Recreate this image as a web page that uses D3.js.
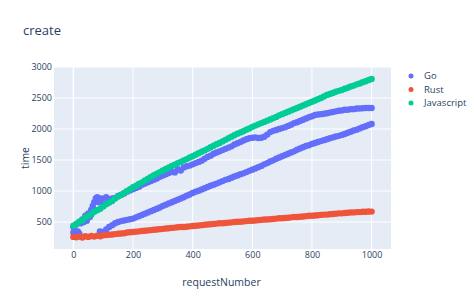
<!DOCTYPE html>
<html>
<head>
<meta charset="utf-8">
<script src="https://cdn.jsdelivr.net/npm/d3@7"></script>
<style>
  body { margin: 0; background: #fff; }
  text { font-family: "Open Sans", verdana, arial, sans-serif; fill: #2a3f5f; }
</style>
</head>
<body>
<div id="chart"></div>
<script>
// request numbers sampled every 10 requests
const requests = d3.range(0, 1001, 10);

// Javascript
const jsTimes = [440, 470, 505, 525, 575, 600, 625, 665, 690, 715, 750, 785, 815, 840, 880, 910, 935, 970, 1000, 1030,
  1060, 1085, 1115, 1140, 1170, 1200, 1225, 1255, 1280, 1305, 1330, 1355, 1380, 1405, 1425, 1450, 1470, 1495, 1515, 1540,
  1560, 1585, 1610, 1635, 1655, 1680, 1705, 1730, 1755, 1775, 1800, 1825, 1850, 1875, 1900, 1925, 1945, 1965, 1990, 2010,
  2035, 2055, 2075, 2095, 2115, 2135, 2155, 2175, 2195, 2220, 2240, 2260, 2280, 2300, 2320, 2340, 2360, 2380, 2400, 2420,
  2440, 2460, 2480, 2500, 2525, 2550, 2565, 2580, 2600, 2615, 2630, 2650, 2665, 2685, 2700, 2720, 2735, 2755, 2770, 2790, 2806];

// Go, upper run
const goUpperTimes = [420, 460, 500, 520, 560, 640, 700, 820, 880, 860, 780, 800, 850, 880, 890, 920, 940, 960, 990, 1010,
  1030, 1050, 1070, 1100, 1120, 1140, 1160, 1180, 1200, 1230, 1250, 1270, 1290, 1310, 1300, 1350, 1330, 1380, 1400, 1410,
  1430, 1450, 1470, 1490, 1520, 1550, 1570, 1600, 1620, 1640, 1660, 1680, 1700, 1720, 1750, 1770, 1790, 1815, 1835, 1850,
  1860, 1865, 1855, 1860, 1875, 1910, 1950, 1970, 1985, 2000, 2015, 2030, 2050, 2070, 2095, 2110, 2130, 2150, 2170, 2190,
  2205, 2225, 2235, 2240, 2245, 2255, 2265, 2275, 2285, 2295, 2300, 2310, 2310, 2320, 2320, 2330, 2330, 2335, 2340, 2340, 2340];

// Go, lower run (starts around request 100)
const goLowerRequests = d3.range(100, 1001, 10);
const goLowerTimes = [330, 380, 420, 450, 480, 500, 515, 525, 535, 545,
  555, 575, 595, 615, 635, 655, 675, 695, 715, 735, 760, 780, 800, 820, 840, 860, 880, 900, 925, 945,
  970, 990, 1005, 1025, 1045, 1065, 1085, 1100, 1120, 1140, 1160, 1180, 1195, 1215, 1235, 1250, 1270, 1285, 1305, 1325,
  1345, 1365, 1385, 1405, 1430, 1450, 1475, 1495, 1520, 1540, 1560, 1580, 1600, 1620, 1640, 1665, 1685, 1705, 1725, 1740,
  1760, 1775, 1790, 1805, 1820, 1835, 1850, 1865, 1880, 1890, 1905, 1920, 1940, 1955, 1975, 1990, 2010, 2030, 2045, 2065, 2080];

// Go, scattered early points
const goEarlyRequests = [0, 5, 10, 15, 20, 25, 30, 35, 40, 45, 55, 60, 65, 70, 75, 80, 85, 89, 95, 96, 105, 110, 115, 120, 125];
const goEarlyTimes = [330, 360, 300, 350, 310, 480, 540, 500, 600, 520, 580, 620, 760, 700, 880, 900, 820, 348, 880, 340, 310, 900, 850, 820, 870];

// Rust
const rustTimes = [260, 255, 265, 250, 270, 260, 275, 265, 280, 270, 285, 290, 295, 300, 305, 310, 315, 320, 330, 335,
  340, 345, 350, 355, 360, 365, 370, 375, 380, 385, 390, 395, 400, 405, 410, 415, 420, 420, 425, 430,
  435, 440, 445, 450, 455, 460, 465, 470, 475, 480, 480, 485, 490, 495, 500, 505, 505, 510, 515, 520,
  520, 525, 530, 535, 540, 540, 545, 550, 555, 560, 560, 565, 570, 575, 580, 580, 585, 590, 595, 600,
  600, 605, 610, 615, 620, 620, 625, 630, 635, 640, 640, 645, 650, 655, 655, 660, 660, 665, 665, 670, 668];

const seriesNames = ['Go', 'Rust', 'Javascript'];
const seriesColors = ['#636efa', '#EF553B', '#00cc96'];
const xTicks = [0, 200, 400, 600, 800, 1000];
const yTicks = [500, 1000, 1500, 2000, 2500, 3000];

const W = 474, H = 304;
const margin = { top: 67, left: 54, right: 83, bottom: 55 };
const width = W - margin.left - margin.right,
  height = H - margin.top - margin.bottom;

const svg = d3.select('#chart').append('svg')
  .attr('width', W)
  .attr('height', H);

const xScale = d3.scaleLinear().domain([-65, 1065]).range([0, width]);
const yScale = d3.scaleLinear().domain([65, 3000]).range([height, 0]);

svg.append('text')
  .attr('x', 23).attr('y', 35)
  .attr('font-size', 13)
  .text('create');

const g = svg.append('g')
  .attr('transform', 'translate(' + margin.left + ',' + margin.top + ')');

g.append('rect')
  .attr('width', width).attr('height', height)
  .attr('fill', '#E5ECF6');

// grid
g.append('g').selectAll('line').data(xTicks).enter().append('line')
  .attr('x1', d => xScale(d)).attr('x2', d => xScale(d))
  .attr('y1', 0).attr('y2', height)
  .attr('stroke', '#fff').attr('stroke-width', d => d === 0 ? 1.5 : 1);
g.append('g').selectAll('line').data(yTicks).enter().append('line')
  .attr('x1', 0).attr('x2', width)
  .attr('y1', d => yScale(d)).attr('y2', d => yScale(d))
  .attr('stroke', '#fff');

// axes, plotly style: no domain line, no ticks
const fmt = d3.format('d');
const xAxis = g.append('g')
  .attr('transform', 'translate(0,' + height + ')')
  .call(d3.axisBottom(xScale).tickValues(xTicks).tickFormat(fmt).tickSize(0).tickPadding(3));
const yAxis = g.append('g')
  .call(d3.axisLeft(yScale).tickValues(yTicks).tickFormat(fmt).tickSize(0).tickPadding(2));
[xAxis, yAxis].forEach(a => {
  a.select('.domain').remove();
  a.selectAll('text')
    .attr('font-family', '"Open Sans", verdana, arial, sans-serif')
    .attr('font-size', 9)
    .attr('fill', '#2a3f5f');
});

svg.append('text')
  .attr('text-anchor', 'middle')
  .attr('transform', 'translate(29,' + (margin.top + height / 2) + ') rotate(-90)')
  .attr('font-size', 10.5)
  .text('time');

svg.append('text')
  .attr('text-anchor', 'middle')
  .attr('x', margin.left + width / 2 - 1).attr('y', 286)
  .attr('font-size', 10.5)
  .text('requestNumber');

// points
const goData = requests.map((r, i) => [r, goUpperTimes[i]])
  .concat(goLowerRequests.map((r, i) => [r, goLowerTimes[i]]))
  .concat(goEarlyRequests.map((r, i) => [r, goEarlyTimes[i]]));
const rustData = requests.map((r, i) => [r, rustTimes[i]]);
const jsData = requests.map((r, i) => [r, jsTimes[i]]);

[goData, rustData, jsData].forEach((data, k) => {
  g.append('g').selectAll('circle').data(data).enter().append('circle')
    .attr('cx', d => xScale(d[0]))
    .attr('cy', d => yScale(d[1]))
    .attr('r', 3.2)
    .attr('fill', seriesColors[k]);
});

// legend
const legend = svg.selectAll('.legend').data(seriesNames).enter().append('g')
  .attr('class', 'legend')
  .attr('transform', (d, i) => 'translate(411,' + (76 + i * 13.5) + ')');
legend.append('circle').attr('r', 2.5).attr('fill', (d, i) => seriesColors[i]);
legend.append('text')
  .attr('x', 13).attr('dy', '0.35em')
  .attr('font-size', 9.5)
  .text(d => d);
</script>
</body>
</html>
